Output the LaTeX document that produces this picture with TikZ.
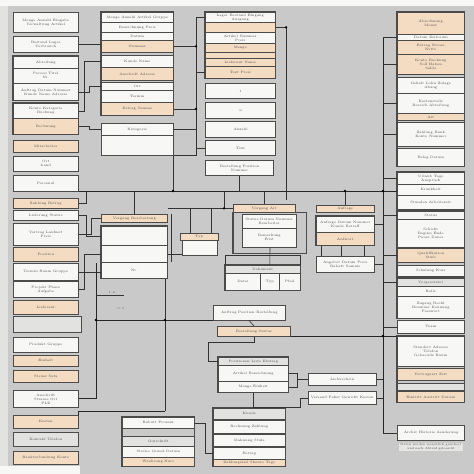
\documentclass[tikz,border=0pt]{standalone}
\usepackage{tikz}
\usetikzlibrary{shadows}
\definecolor{bgray}{HTML}{C9C9C9}
\definecolor{peach}{HTML}{F4DCC2}
\definecolor{paper}{HTML}{F7F7F5}
\definecolor{pale}{HTML}{E2E2E0}
\definecolor{frame}{HTML}{4B4B4B}
\begin{document}
\begin{tikzpicture}[x=1pt,y=-1pt,
  wb/.style={draw=frame,line width=0.6pt,fill=paper,anchor=north west,inner sep=0pt,align=center,text=black!70,font=\fontsize{3.4}{4}\selectfont,drop shadow={opacity=0.3,shadow xshift=0.8pt,shadow yshift=-0.8pt}},
  pb/.style={wb,fill=peach},
  gb/.style={wb,fill=pale},
  bb/.style={wb,line width=1.2pt},
  grp/.style={draw=frame,line width=1.2pt},
  ln/.style={draw=black!80,line width=0.6pt},
  bus/.style={draw=black!85,line width=0.9pt},
  lbl/.style={text=black!70,font=\fontsize{3}{3.6}\selectfont,inner sep=0.5pt},
  dot/.style={circle,fill=black,inner sep=0pt,minimum size=2.6pt}]
\fill[bgray] (0,0) rectangle (474,474);
\useasboundingbox (0,0) rectangle (474,474);
\fill[paper] (0,0) rectangle (474,6);
\fill[pale] (0,6) rectangle (8,474);
\fill[paper] (0,466) rectangle (80,474);

\node[wb,minimum width=65,minimum height=20](l1) at (13,12){Menge Anzahl Eingabe\\Verwaltung Artikel};
\node[wb,minimum width=65,minimum height=16](l2) at (13,36){Bestand Lager\\Verbrauch};
\node[wb,minimum width=65,minimum height=12](l3a) at (13,56){Abteilung};
\node[wb,minimum width=65,minimum height=15](l3b) at (13,68){Person Titel\\Nr.};
\node[wb,minimum width=65,minimum height=17](l3c) at (13,83){Auftrag Datum Nummer\\Kunde Name Adresse};
\node[wb,minimum width=65,minimum height=15](l4a) at (13,103){Konto Kategorie\\Buchung};
\node[pb,minimum width=65,minimum height=16](l4b) at (13,118){Rechnung};
\node[pb,minimum width=65,minimum height=12](l5) at (13,140){Mitarbeiter};
\node[wb,minimum width=65,minimum height=15](l6) at (13,156){Ort\\Land};
\node[wb,minimum width=65,minimum height=16](l7) at (13,175){Personal};
\node[pb,minimum width=65,minimum height=10](l8) at (13,198){Zahlung Betrag};
\node[wb,minimum width=65,minimum height=10](l9) at (13,210){Lieferung Status};
\node[wb,minimum width=65,minimum height=22](l10) at (13,223){Vertrag Laufzeit\\Preis};
\node[pb,minimum width=65,minimum height=14](l11) at (13,247){Position};
\node[wb,minimum width=65,minimum height=17](l12) at (13,263){Termin Raum Gruppe};
\node[wb,minimum width=65,minimum height=16](l13) at (13,281){Projekt Phase\\Aufgabe};
\node[pb,minimum width=65,minimum height=14](l14) at (13,300){Lieferant};
\node[gb,minimum width=68,minimum height=16](l15) at (13,316){};
\node[wb,minimum width=65,minimum height=15](l16) at (13,337){Produkt Gruppe};
\node[pb,minimum width=65,minimum height=11](l17) at (13,355){Einheit};
\node[pb,minimum width=65,minimum height=12](l18) at (13,370){Steuer Satz};
\node[wb,minimum width=65,minimum height=17](l19) at (13,390){Anschrift\\Strasse Ort\\PLZ};
\node[pb,minimum width=65,minimum height=13](l20) at (13,415){Kosten};
\node[gb,minimum width=65,minimum height=14](l21) at (13,432){Kontakt Telefon};
\node[pb,minimum width=65,minimum height=13](l22) at (13,451){Bankverbindung Konto};
\draw[grp] (l3a.north west) rectangle (l3c.south east);
\draw[grp] (l4a.north west) rectangle (l4b.south east);

\node[wb,minimum width=72,minimum height=10](c2a) at (101,12){Menge Anzahl Artikel Gruppe};
\node[wb,minimum width=72,minimum height=10](c2b) at (101,22){Bezeichnung Preis};
\node[wb,minimum width=72,minimum height=8](c2c) at (101,32){Datum};
\node[pb,minimum width=72,minimum height=12](c2d) at (101,40){Nummer};
\node[wb,minimum width=72,minimum height=12](c2e) at (101,55){Kunde Name};
\node[pb,minimum width=72,minimum height=13](c2f) at (101,67){Anschrift Adresse};
\node[wb,minimum width=72,minimum height=8](c2g) at (101,82){Ort};
\node[wb,minimum width=72,minimum height=12](c2h) at (101,90){Termin};
\node[pb,minimum width=72,minimum height=13](c2i) at (101,102){Betrag Summe};
\node[wb,minimum width=72,minimum height=12](c2j) at (101,123){Kategorie};
\node[wb,minimum width=72,minimum height=20](c2k) at (101,135){};
\draw[grp] (c2a.north west) rectangle (c2i.south east);

\node[wb,minimum width=70,minimum height=10](c3a) at (205,12){Lager Bestand Eingang\\Ausgang};
\node[pb,minimum width=70,minimum height=10](c3b) at (205,22){};
\node[wb,minimum width=70,minimum height=11](c3c) at (205,32){Artikel Nummer\\Preis};
\node[pb,minimum width=70,minimum height=9](c3d) at (205,43){Menge};
\node[pb,minimum width=70,minimum height=6](c3e) at (205,52){};
\node[pb,minimum width=70,minimum height=8](c3f) at (205,58){Lieferant Name};
\node[pb,minimum width=70,minimum height=12](c3g) at (205,66){Text Preis};
\draw[grp] (c3a.north west) rectangle (c3g.south east);
\node[bb,minimum width=70,minimum height=15](c3h) at (205,83){1};
\node[bb,minimum width=70,minimum height=16](c3i) at (205,102){n};
\node[bb,minimum width=70,minimum height=16](c3j) at (205,121){Anzahl};
\node[bb,minimum width=70,minimum height=15](c3k) at (205,140){Text};
\node[bb,minimum width=68,minimum height=15](c3l) at (205,160){Bestellung Position\\Nummer};

\node[pb,minimum width=67,minimum height=22](r1) at (397,12){Abrechnung\\Monat};
\node[wb,minimum width=67,minimum height=6](r2) at (397,34){Datum Zeitraum};
\node[pb,minimum width=67,minimum height=14](r3) at (397,40){Betrag Steuer\\Netto};
\node[pb,minimum width=67,minimum height=20](r4) at (397,54){Konto Buchung\\Soll Haben\\Saldo};
\node[wb,minimum width=67,minimum height=16](r5) at (397,77){Gehalt Lohn Zulage\\Abzug};
\node[wb,minimum width=67,minimum height=20](r6) at (397,93){Kostenstelle\\Bereich Abteilung};
\node[pb,minimum width=67,minimum height=7](r7) at (397,113){Art};
\node[wb,minimum width=67,minimum height=24](r8) at (397,122){Zahlung Bank\\Konto Nummer};
\node[wb,minimum width=67,minimum height=18](r9) at (397,148){Beleg Datum};
\draw[grp] (r1.north west) rectangle (r9.south east);
\node[wb,minimum width=67,minimum height=12](r10) at (397,172){Urlaub Tage\\Anspruch};
\node[wb,minimum width=67,minimum height=11](r11) at (397,184){Krankheit};
\node[wb,minimum width=67,minimum height=14](r12) at (397,195){Stunden Arbeitszeit};
\draw[grp] (r10.north west) rectangle (r12.south east);
\node[wb,minimum width=67,minimum height=8](r13) at (397,211){Status};
\node[wb,minimum width=67,minimum height=28](r14) at (397,219){Schicht\\Beginn Ende\\Pause Dauer};
\node[pb,minimum width=67,minimum height=14](r15) at (397,248){Qualifikation\\Stufe};
\node[wb,minimum width=67,minimum height=11](r16) at (397,265){Schulung Kurs};
\draw[grp] (r13.north west) rectangle (r16.south east);
\node[gb,minimum width=67,minimum height=8](r17) at (397,278){Vorgesetzter};
\node[wb,minimum width=67,minimum height=10](r18) at (397,286){Rolle};
\node[wb,minimum width=67,minimum height=22](r19) at (397,296){Zugang Recht\\Benutzer Kennung\\Passwort};
\draw[grp] (r17.north west) rectangle (r19.south east);
\node[wb,minimum width=67,minimum height=13](r20) at (397,320){Team};
\node[wb,minimum width=67,minimum height=30](r21) at (397,336){Standort Adresse\\Telefon\\Gebaeude Raum};
\node[pb,minimum width=67,minimum height=12](r22) at (397,368){Vertragsart Zeit};
\node[gb,minimum width=67,minimum height=7](r23) at (397,383){};
\node[pb,minimum width=67,minimum height=11](r24) at (397,391){Eintritt Austritt Datum};
\draw[grp] (r21.north west) rectangle (r24.south east);
\node[bb,minimum width=67,minimum height=15](r25) at (397,425){Archiv Historie Aenderung};
\node[lbl,align=center,fill=paper!60!bgray,inner sep=1pt](note) at (431,447){Daten werden monatlich gesichert\\und nach Ablauf geloescht};

\node[pb,minimum width=66,minimum height=8](m1h) at (101,214){Vorgang Bearbeitung};
\node[wb,minimum width=66,minimum height=19](m1a) at (101,226){};
\node[wb,minimum width=66,minimum height=17](m1b) at (101,245){};
\node[wb,minimum width=66,minimum height=16](m1c) at (101,262){Nr.};
\draw[grp] (m1a.north west) rectangle (m1c.south east);
\node[pb,minimum width=38,minimum height=7](m2h) at (180,233){Typ};
\node[wb,minimum width=35,minimum height=15](m2b) at (182,240){};
\node[pb,minimum width=62,minimum height=8](m3h) at (233,204){Vorgang Art};
\node[wb,minimum width=54,minimum height=14](m3a) at (242,214){Status Datum Nummer\\Bearbeiter};
\node[wb,minimum width=54,minimum height=19](m3b) at (242,228){Bemerkung\\Frist};
\draw[grp] (m3h.south west) rectangle ([xshift=10pt,yshift=-6pt]m3b.south east);
\node[gb,minimum width=75,minimum height=8](m4) at (225,265){Dokument};
\node[wb,minimum width=35,minimum height=17](m4a) at (225,273){Datei};
\node[wb,minimum width=19,minimum height=17](m4b) at (260,273){Typ};
\node[wb,minimum width=21,minimum height=17](m4c) at (279,273){Pfad};
\draw[grp] (m4.north west) rectangle (m4c.south east);
\node[pb,minimum width=58,minimum height=7](m5h) at (316,205){Anfrage};
\node[wb,minimum width=58,minimum height=16](m5a) at (316,216){Anfrage Datum Nummer\\Kunde Betreff};
\node[pb,minimum width=58,minimum height=13](m5b) at (316,232){Antwort};
\draw[grp] (m5a.north west) rectangle (m5b.south east);
\node[wb,minimum width=58,minimum height=16](m6) at (316,256){Angebot Datum Preis\\Rabatt Summe};
\node[wb,minimum width=72,minimum height=15](m7) at (213,305){Auftrag Position Bestellung};
\node[pb,minimum width=73,minimum height=10](m8) at (217,326){Bestellung Status};
\node[gb,minimum width=70,minimum height=8](m9h) at (218,357){Positionen Liste Eintrag};
\node[wb,minimum width=70,minimum height=16](m9b) at (218,365){Artikel Bezeichnung};
\node[wb,minimum width=70,minimum height=11](m9c) at (218,381){Menge Einheit};
\draw[grp] (m9h.north west) rectangle (m9c.south east);
\node[wb,minimum width=68,minimum height=12](m10) at (308,373){Lieferschein};
\node[wb,minimum width=68,minimum height=13](m11) at (308,391){Versand Paket Gewicht Kosten};
\node[gb,minimum width=72,minimum height=11](m12h) at (213,408){Kunde};
\node[wb,minimum width=72,minimum height=13](m12a) at (213,420){Rechnung Zahlung};
\node[wb,minimum width=72,minimum height=12](m12b) at (213,434){Mahnung Stufe};
\node[wb,minimum width=72,minimum height=12](m12c) at (213,447){Betrag};
\node[pb,minimum width=72,minimum height=7](m12d) at (213,459){Zahlungsziel Skonto Tage};
\draw[grp] (m12h.north west) rectangle (m12d.south east);
\node[wb,minimum width=72,minimum height=11](b1a) at (122,417){Rabatt Prozent};
\node[gb,minimum width=72,minimum height=10](b1b) at (122,436){Gutschrift};
\node[wb,minimum width=72,minimum height=11](b1c) at (122,446){Storno Grund Datum};
\node[pb,minimum width=72,minimum height=9](b1d) at (122,457){Waehrung Kurs};
\draw[grp] (b1a.north west) rectangle (b1d.south east);

\coordinate (v2) at (196,0);
\coordinate (v3) at (286,0);
\coordinate (vR) at (383,0);
\coordinate (v4) at (84,0);
\coordinate (v5) at (89,0);
\coordinate (v6) at (86,0);
\coordinate (v7) at (91,0);
\coordinate (v8) at (96,0);
\coordinate (v9) at (224,0);
\coordinate (jA) at (96,320);
\coordinate (jB) at (165,320);
\coordinate (jC) at (165,411);
\coordinate (j3) at (300,255);
\coordinate (j8) at (208,342);
\coordinate (j9) at (297,0);
\coordinate (j7) at (300,407);
\coordinate (j10) at (205,0);

\draw[bus] (l7.south east) -- (l7.south east -| r11.west);
\draw[ln] (v2 |- c3a.west) -- (v2 |- c2k.south);
\foreach \n in {c3a,c3g,c3k}
 \draw[ln] (\n.west) -- (\n.west -| v2);
\foreach \n in {c2d,c2i,c2j}
 \draw[ln] (\n.east) -- (\n.east -| v2);
\draw[ln] (c2k.south east) -- (v2 |- c2k.south);
\draw[ln] (c2k.south east) -- (c2k.south east |- l7.south east);
\draw[ln] (c3b.east) -- (c3b.east -| v3) -- ([yshift=-8pt]v3 |- l7.south east);
\draw[ln] (c3l.south) -- (c3l.south |- l7.south east);
\draw[bus] (vR |- r2.west) -- (vR |- r25.west);
\foreach \n in {r2,r4,r6,r8,r10,r13,r15,r17,r20,r25}
 \draw[ln] (vR |- \n.west) -- (\n.west);
\draw[ln] (l2.east) -- (l2.east -| c2d.west);
\draw[ln] (l4a.east) -| (v4 |- c2e.west) -- (c2e.west);
\draw[ln] (l3c.east) -| (v5 |- c2g.west) -- (c2g.west);
\draw[ln] (l4b.east) -| (v5 |- c2j.west) -- (c2j.west);
\draw[ln] (l8.east) -| (v6 |- l7.south east);
\draw[ln] (l9.east) -| (v6 |- m1a.west) -- (m1a.west);
\draw[ln] (l10.east) -| (v7 |- m1h.west) -- (m1h.west);
\draw[ln] (l12.east) -- (l12.east -| m1c.west);
\draw[ln] (l13.east) -| (v4 |- m1b.west) -- (m1b.west);
\draw[bus] (l19.east) -| (v8 |- m1b.south west);
\draw[bus] (jA) -- (jA -| m7.west);
\draw[ln] (m1c.south -| jB) -- (jC);
\draw[bus] (l20.north east) |- (jC);
\draw[ln] (jA) ++(0,-25) -- ++(28,0);
\node[lbl] (e1) at (112,292) {1..n};
\node[lbl] (e2) at (121,309) {0..1};
\draw[ln] (m1h.north) -- (m1h.north |- l7.south east);
\draw[ln] (m3h.west) -- (m3h.west -| m1h.east);
\draw[ln] (v9 |- l7.south east) -- (v9 |- m3h.west);
\draw[ln] ([xshift=-9pt]m2h.north) -- ([xshift=-9pt]m2h.north |- m3h.west);
\draw[ln] ([xshift=12pt]m2h.north) -- ([xshift=12pt]m2h.north |- m3h.west);
\draw[ln] ([xshift=4pt]m1h.north east) -- ([xshift=4pt]m1c.north east);
\draw[ln] (m3h.north) -- (m3h.north |- l7.south east);
\draw[ln] (m5h.north) -- (m5h.north |- l7.south east);
\draw[ln] (m1b.east) -- (m1b.east -| m2b.west);
\draw[ln] ([xshift=-30pt]m3b.south -| j3) -- (m4.north -| m4b.north);
\draw[ln] (m4.north west) |- (j3) -- (j3 |- m4.north);
\foreach \s in {-24,-4,19}
 \draw[ln] ([xshift=\s pt]m5b.south) -- ([xshift=\s pt]m6.north);
\draw[ln] (m5a.east) -- (m5a.east -| vR);
\draw[ln] (m6.east) -- (m6.east -| vR);
\draw[ln] (m7.south) -- (m8.north);
\draw[bus] (m8.south east) -- (m8.south east -| r21.west);
\draw[ln] (m8.south) |- (j8) |- (m9h.west);
\draw[ln] (m9b.east) -| (j9 |- m10.west) -- (m10.west);
\draw[ln] (m9c.east) -| (j9 |- m10.west);
\draw[ln] (m9c.south) |- (j7) |- (m11.west);
\draw[ln] (m10.east) -- (m10.east -| vR);
\draw[ln] (m11.east) -- (m11.east -| vR);
\draw[ln] (b1a.east) -| (j10 |- m12c.west) -- (m12c.west);

\foreach \p in {(173,191),(345,191),(383,191),(v3 |- c3b.east),(v2 |- c2d.east),(v2 |- c2i.east),(jA),(jB),(383,336),(v9 |- m3h.west)}
 \node[dot] at \p {};
\end{tikzpicture}
\end{document}
